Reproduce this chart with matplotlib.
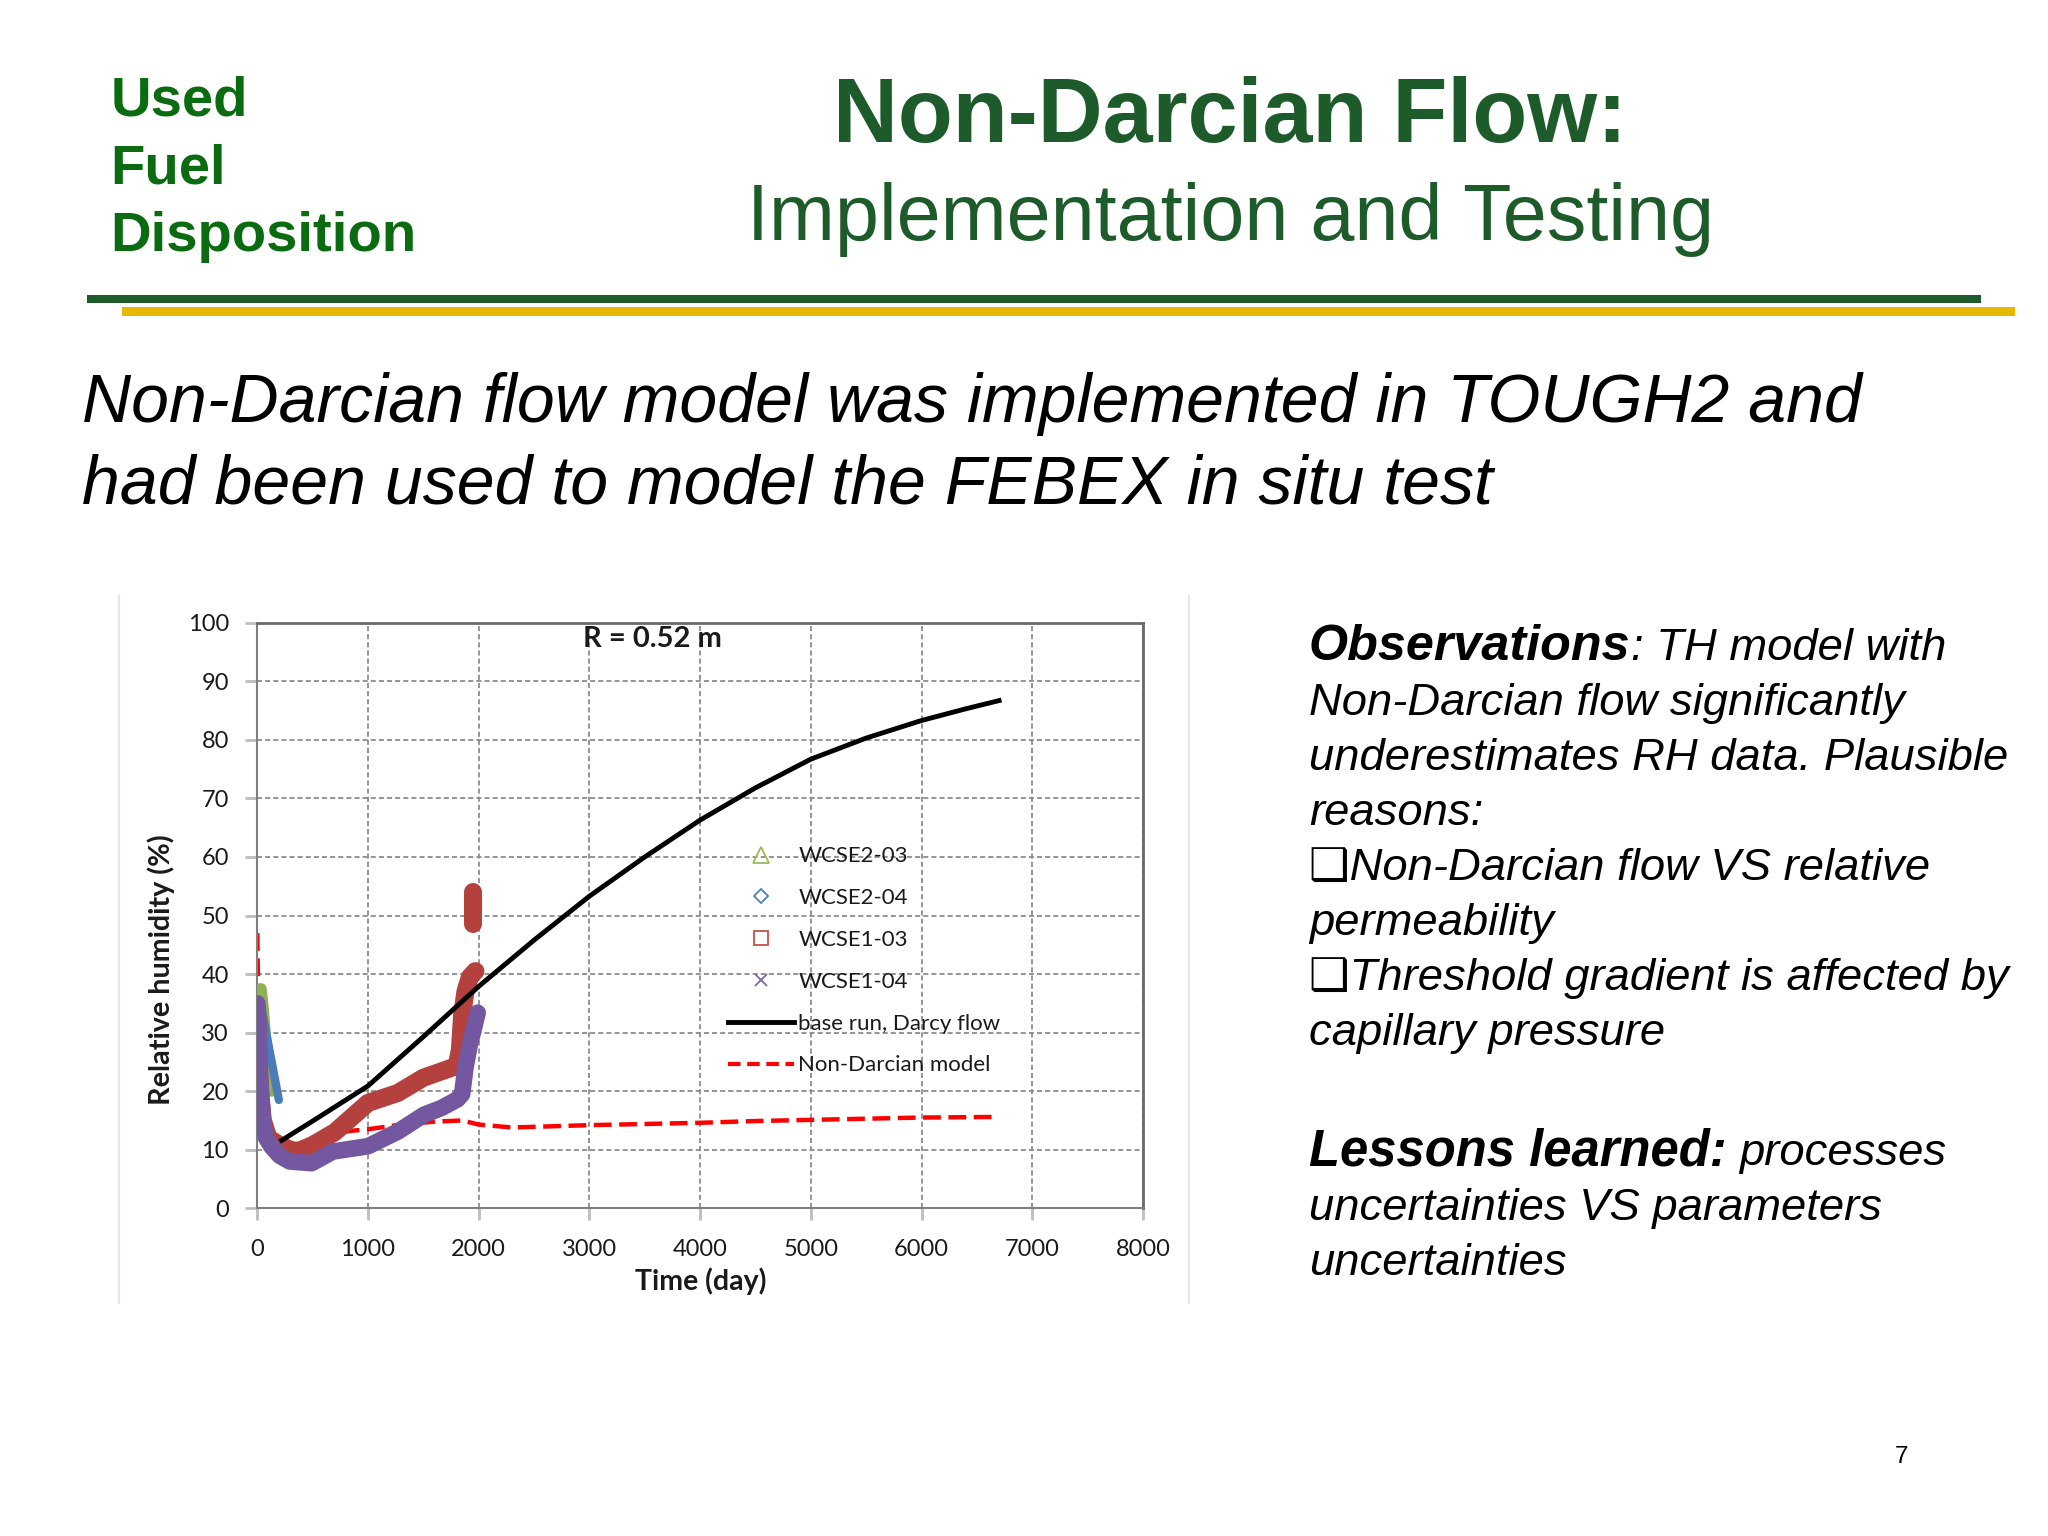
import matplotlib
matplotlib.use("Agg")
import matplotlib.pyplot as plt
from matplotlib.lines import Line2D
from matplotlib.patches import Rectangle

W, H = 2048, 1536

# values (time in days, relative humidity in %)
darcy_t = [220, 500, 1000, 1500, 2000, 2500, 3000, 3500, 4000, 4500, 5000, 5500, 6000, 6400, 6700]
darcy_rh = [11.6, 14.9, 20.9, 29.3, 37.9, 45.8, 53.3, 60.0, 66.3, 71.8, 76.7, 80.3, 83.3, 85.3, 86.7]

nondarcy_t = [0, 5, 30, 80, 200, 400, 600, 830, 1000, 1300, 1600, 1850, 2000, 2300,
              3000, 3500, 4000, 4500, 5000, 5500, 6000, 6700]
nondarcy_rh = [47, 40, 25, 15, 11, 11, 12.2, 13.2, 13.5, 14.3, 14.8, 15.0, 14.3, 13.8,
               14.2, 14.4, 14.6, 14.9, 15.1, 15.3, 15.5, 15.6]

wcse2_03_t = [0, 15, 35, 55, 75, 100, 130]
wcse2_03_rh = [33, 37, 37.5, 34, 29, 24, 20]

wcse2_04_t = [30, 60, 100, 140, 170, 195]
wcse2_04_rh = [35, 32, 28, 24, 21, 18.5]

wcse1_03_t = [0, 10, 25, 50, 100, 200, 350, 500, 700, 1000, 1270, 1500, 1800, 1830, 1850, 1880, 1920, 1970]
wcse1_03_rh = [33, 27, 20, 15, 12, 10.8, 9.6, 10.8, 13, 18, 19.7, 22.3, 24.3, 27, 33, 37, 39.5, 40.5]
wcse1_03_late_t = [1950, 1950]
wcse1_03_late_rh = [48.5, 54]

wcse1_04_t = [0, 10, 25, 50, 80, 130, 200, 293, 490, 684, 1000, 1270, 1508, 1660, 1808, 1850,
              1880, 1920, 1960, 1990]
wcse1_04_rh = [35, 30, 22, 15, 12, 10.5, 9, 8, 7.7, 9.7, 10.6, 13.1, 16, 17.1, 18.6, 19.5,
               24, 28, 31, 33.4]

x_ticks = [0, 1000, 2000, 3000, 4000, 5000, 6000, 7000, 8000]
y_ticks = [0, 10, 20, 30, 40, 50, 60, 70, 80, 90, 100]

obs_lines = ["Non-Darcian flow significantly",
             "underestimates RH data. Plausible",
             "reasons:",
             "\u2751Non-Darcian flow VS relative",
             "permeability",
             "\u2751Threshold gradient is affected by",
             "capillary pressure"]
lesson_lines = ["uncertainties VS parameters", "uncertainties"]

plt.rcParams['font.family'] = ['Lato', 'DejaVu Sans']
SLIDE = ['Liberation Sans', 'DejaVu Sans']
DKGREEN = '#1E5B2A'
INK = '#1A1A1A'


def fx(x):
    return x / W


def fy(y):
    return 1 - y / H


fig = plt.figure(figsize=(20.48, 15.36), dpi=100)
fig.patch.set_facecolor('white')

# header
for word, base in [("Used", 115), ("Fuel", 183.3), ("Disposition", 250.7)]:
    fig.text(fx(110.7), fy(base), word, family=SLIDE, weight='bold', fontsize=40.5,
             color='#0B6B10', va='baseline', ha='left')
fig.text(fx(1230), fy(141.7), "Non-Darcian Flow:", family=SLIDE, weight='bold', fontsize=64.7,
         color=DKGREEN, va='baseline', ha='center')
fig.text(fx(1231), fy(240), "Implementation and Testing", family=SLIDE, fontsize=57,
         color=DKGREEN, va='baseline', ha='center')
fig.add_artist(Rectangle((fx(87), fy(303.3)), fx(1981) - fx(87), 8.3 / H,
                         transform=fig.transFigure, color=DKGREEN, lw=0))
fig.add_artist(Rectangle((fx(121.7), fy(316)), fx(2015) - fx(121.7), 9.3 / H,
                         transform=fig.transFigure, color='#E6B800', lw=0))

# intro sentence
fig.text(fx(82.3), fy(421.7), "Non-Darcian flow model was implemented in TOUGH2 and",
         family=SLIDE, style='italic', fontsize=49, va='baseline')
fig.text(fx(82.3), fy(504), "had been used to model the FEBEX in situ test",
         family=SLIDE, style='italic', fontsize=49, va='baseline')

# right column
renderer = fig.canvas.get_renderer()


def runs(x, base, parts):
    for txt, weight, size, gap in parts:
        t = fig.text(fx(x), fy(base), txt, family=SLIDE, style='italic', weight=weight,
                     fontsize=size, va='baseline', ha='left')
        x += t.get_window_extent(renderer).width + gap


TX = 1309
BODY = 32.7
runs(TX, 660, [("Observations", 'bold', 36.2, 0), (": TH model with", 'normal', BODY, 0)])
for i, line in enumerate(obs_lines):
    fig.text(fx(TX), fy(715 + 55 * i), line, family=SLIDE, style='italic', fontsize=BODY,
             va='baseline')
runs(TX, 1165, [("Lessons learned:", 'bold', 36.5, 12), ("processes", 'normal', BODY, 0)])
for i, line in enumerate(lesson_lines):
    fig.text(fx(TX), fy(1220 + 55 * i), line, family=SLIDE, style='italic', fontsize=BODY,
             va='baseline')

fig.text(fx(1901.7), fy(1463.3), "7", family=SLIDE, fontsize=17.4, va='baseline', ha='center')

# faint frame of the pasted chart
for xe in (119, 1188.6):
    fig.add_artist(Line2D([fx(xe), fx(xe)], [fy(596), fy(1303)], transform=fig.transFigure,
                          color='#E6E6E6', lw=1.5))

# chart
ax = fig.add_axes([fx(257.3), fy(1208.3), (1143 - 257.3) / W, (1208.3 - 622.7) / H])
ax.set_xlim(0, 8000)
ax.set_ylim(0, 100)
ax.set_xticks(x_ticks)
ax.set_yticks(y_ticks)
ax.set_axisbelow(True)
ax.grid(True, ls=(0, (2.8, 1.7)), color='#8C8C8C', lw=1.3)
ax.tick_params(direction='out', length=8.4, width=2, color='#BDBDBD', labelsize=17,
               labelcolor=INK)
ax.tick_params(axis='x', pad=13.5)
ax.tick_params(axis='y', pad=12)
for s in ('left', 'bottom'):
    ax.spines[s].set_color('#7F7F7F')
    ax.spines[s].set_linewidth(1.5)
for s in ('top', 'right'):
    ax.spines[s].set_color('#6A6A6A')
    ax.spines[s].set_linewidth(2)

ax.plot(nondarcy_t, nondarcy_rh, color='red', lw=3.2, dashes=(4, 1.7), zorder=2)
ax.plot(wcse2_03_t, wcse2_03_rh, color='#8FB050', lw=8, solid_capstyle='round',
        solid_joinstyle='round', zorder=3)
ax.plot(wcse2_04_t, wcse2_04_rh, color='#4A7DB8', lw=6, solid_capstyle='round',
        solid_joinstyle='round', zorder=3)
ax.plot(wcse1_03_t, wcse1_03_rh, color='#B4413E', lw=13, solid_capstyle='round',
        solid_joinstyle='round', zorder=3)
ax.plot(wcse1_03_late_t, wcse1_03_late_rh, color='#B4413E', lw=13, solid_capstyle='round',
        zorder=3)
ax.plot(wcse1_04_t, wcse1_04_rh, color='#7357A0', lw=12, solid_capstyle='round',
        solid_joinstyle='round', zorder=3)
ax.plot(darcy_t, darcy_rh, color='black', lw=3.5, solid_joinstyle='round', zorder=4)

ax.text(3565, 95.85, "R = 0.52 m", ha='center', va='baseline', fontsize=21,
        weight='bold', color=INK)

handles = [
    Line2D([], [], ls='none', marker='^', mfc='none', mec='#9BBB59', ms=11, mew=1.3, label='WCSE2-03'),
    Line2D([], [], ls='none', marker='D', mfc='none', mec='#4F81BD', ms=7.5, mew=1.3, label='WCSE2-04'),
    Line2D([], [], ls='none', marker='s', mfc='none', mec='#C0504D', ms=10, mew=1.3, label='WCSE1-03'),
    Line2D([], [], ls='none', marker='x', color='#8064A2', ms=8, mew=1.3, label='WCSE1-04'),
    Line2D([], [], color='black', lw=3.5, label='base run, Darcy flow'),
    Line2D([], [], color='red', lw=3, dashes=(3, 1.6), label='Non-Darcian model'),
]
ax.legend(handles=handles, loc='upper left', bbox_to_anchor=(0.5313, 0.618), frameon=False,
          fontsize=16, handlelength=2.97, handletextpad=0.2, labelspacing=0.98,
          borderpad=0, borderaxespad=0, labelcolor=INK)

fig.text(fx(700.6), fy(1290), "Time (day)", ha='center', va='baseline', fontsize=20.5,
         weight='bold', color=INK)
fig.text(fx(161), fy(970), "Relative humidity (%)", rotation=90, ha='center', va='center',
         fontsize=20.7, weight='bold', color=INK)

fig.savefig("out.png", dpi=100, facecolor='white')
